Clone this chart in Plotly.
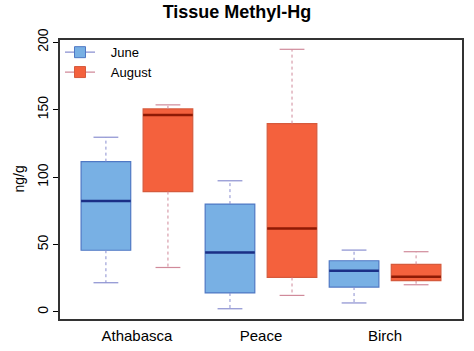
import plotly.graph_objects as go

# ---- data ----
rivers = ["Athabasca", "Peace", "Birch"]
months = ["June", "August"]

june_low = [21.7, 2.4, 6.7]
june_q1 = [45.8, 14.1, 18.5]
june_med = [82.3, 44.2, 30.6]
june_q3 = [111.5, 80.0, 38.0]
june_high = [129.6, 97.3, 45.9]

aug_low = [33.0, 12.3, 20.2]
aug_q1 = [89.3, 25.6, 23.2]
aug_med = [146.0, 61.9, 26.1]
aug_q3 = [150.6, 139.7, 35.3]
aug_high = [153.6, 194.8, 44.7]

y_ticks = [0, 50, 100, 150, 200]

FONT = "Arial, Liberation Sans, sans-serif"

series = [
    dict(name="June", low=june_low, q1=june_q1, med=june_med, q3=june_q3, high=june_high,
         offset=0, fill="#78b0e4", edge="#4f78c4", median="#1b2f86", whisk="#8a8fd0"),
    dict(name="August", low=aug_low, q1=aug_q1, med=aug_med, q3=aug_q3, high=aug_high,
         offset=1, fill="#f4613d", edge="#d65a3c", median="#8e1a05", whisk="#d08a9a"),
]

fig = go.Figure()
half = 0.4
cap = 0.2

for s in series:
    xs = [2 * i + 1 + s["offset"] for i in range(len(rivers))]
    # boxes
    fig.add_trace(go.Box(
        x=xs, q1=s["q1"], median=s["med"], q3=s["q3"],
        lowerfence=s["q1"], upperfence=s["q3"],
        width=2 * half, fillcolor=s["fill"],
        line=dict(color=s["edge"], width=1.2),
        showlegend=False, hoverinfo="skip", whiskerwidth=0,
    ))
    # dotted whiskers
    wx, wy = [], []
    for x, lo, q1, q3, hi in zip(xs, s["low"], s["q1"], s["q3"], s["high"]):
        wx += [x, x, None, x, x, None]
        wy += [q3, hi, None, q1, lo, None]
    fig.add_trace(go.Scatter(x=wx, y=wy, mode="lines",
                             line=dict(color=s["whisk"], width=1, dash="dot"),
                             showlegend=False, hoverinfo="skip"))
    # caps
    cx, cy = [], []
    for x, lo, hi in zip(xs, s["low"], s["high"]):
        cx += [x - cap, x + cap, None, x - cap, x + cap, None]
        cy += [hi, hi, None, lo, lo, None]
    fig.add_trace(go.Scatter(x=cx, y=cy, mode="lines",
                             line=dict(color=s["whisk"], width=1.2),
                             showlegend=False, hoverinfo="skip"))
    # medians
    mx, my = [], []
    for x, m in zip(xs, s["med"]):
        mx += [x - half, x + half, None]
        my += [m, m, None]
    fig.add_trace(go.Scatter(x=mx, y=my, mode="lines",
                             line=dict(color=s["median"], width=2.5),
                             showlegend=False, hoverinfo="skip"))
    # legend entry
    fig.add_trace(go.Scatter(x=[None], y=[None], mode="lines+markers",
                             name="\u00a0\u00a0\u00a0" + s["name"],
                             line=dict(color=s["whisk"], width=1.2),
                             marker=dict(symbol="square", size=11, color=s["fill"],
                                         line=dict(color=s["edge"], width=1))))

fig.update_layout(
    width=474, height=351,
    margin=dict(l=60, r=12, t=40, b=32),
    paper_bgcolor="white", plot_bgcolor="white",
    boxmode="overlay",
    font=dict(family=FONT, color="black", size=14),
    title=dict(text="<b>Tissue Methyl-Hg</b>", x=0.5, xanchor="center",
               y=1 - 12 / 351, yanchor="middle", font=dict(size=18, family=FONT)),
    legend=dict(x=0.0, y=1.01, xanchor="left", yanchor="top",
                bgcolor="rgba(0,0,0,0)", font=dict(size=13, family=FONT),
                itemwidth=30, tracegroupgap=0),
    showlegend=True,
)
fig.update_xaxes(
    range=[0.26, 6.74], tickvals=[2 * i + 1.5 for i in range(len(rivers))],
    ticktext=rivers, ticks="outside", ticklen=2, tickcolor="rgba(0,0,0,0)",
    showgrid=False, zeroline=False, automargin=False,
    showline=True, mirror=True, linecolor="#333333", linewidth=1.5,
    tickfont=dict(size=15),
)
fig.update_yaxes(
    range=[-5.2, 201.7], tickvals=y_ticks, ticks="outside", ticklen=5,
    tickcolor="black", tickangle=-90, showgrid=False, zeroline=False, automargin=False,
    showline=True, mirror=True, linecolor="#333333", linewidth=1.5,
    tickfont=dict(size=14),
)
fig.add_annotation(text="ng/g", xref="paper", yref="paper", x=(18 - 60) / 402, y=0.5,
                   textangle=-90, showarrow=False, font=dict(size=14, family=FONT),
                   xanchor="center", yanchor="middle")

fig.write_html("out.html")
